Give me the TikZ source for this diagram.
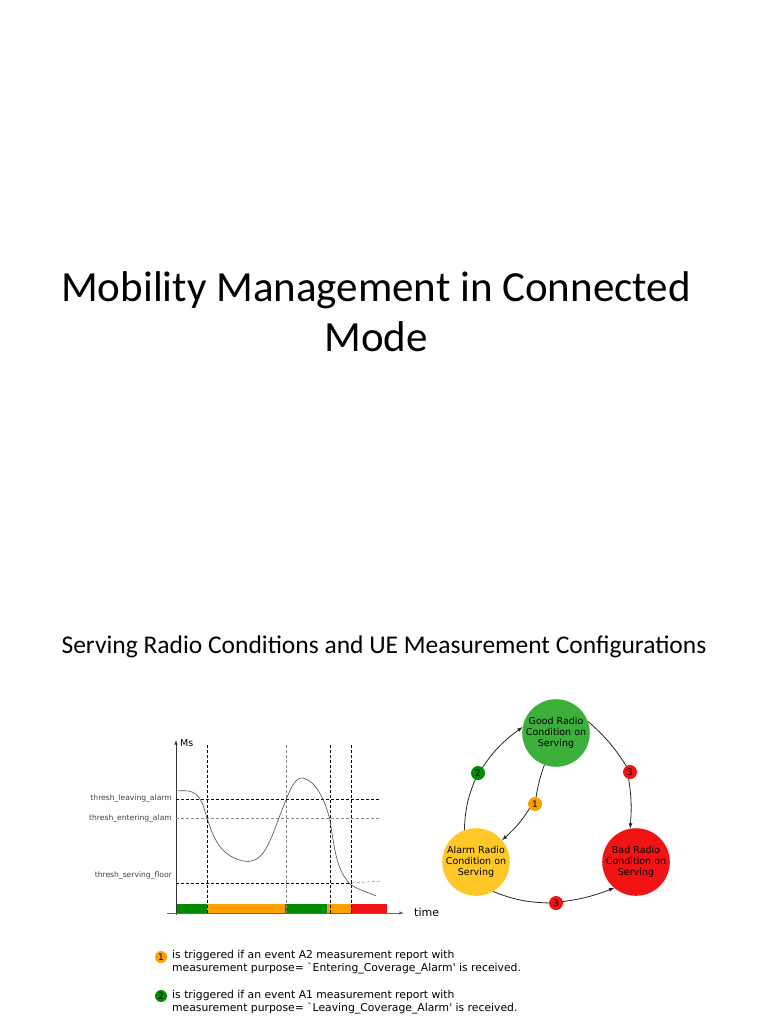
\documentclass[tikz,border=0pt]{standalone}
\usepackage{fontspec}
\usetikzlibrary{backgrounds}
\setmainfont{Carlito}
\newfontfamily\dv{DejaVu Sans}
\definecolor{gr}{RGB}{0,140,0}
\definecolor{cgreen}{RGB}{60,175,60}
\definecolor{og}{RGB}{255,160,0}
\definecolor{cyel}{RGB}{255,200,40}
\definecolor{rd}{RGB}{240,20,20}
\begin{document}
\begin{tikzpicture}[x=1pt,y=-1pt,
  lbl/.style={font=\dv\fontsize{7.6}{8}\selectfont,text=black!75,anchor=east,inner sep=0},
  dk/.style={densely dashed,black,line width=0.6pt},
  lt/.style={densely dashed,black!45,line width=0.5pt},
  st/.style={circle,minimum size=62pt,inner sep=0,align=center,font=\dv\fontsize{9.5}{11}\selectfont},
  badge/.style={circle,minimum size=14pt,inner sep=0,font=\dv\fontsize{9}{9}\selectfont},
  tr/.style={->,>=latex,line width=0.8pt,black!85},
  leg/.style={anchor=north west,align=left,inner sep=0,font=\dv\fontsize{10.8}{13}\selectfont}]
\useasboundingbox (0,0) rectangle (768,1024);
\node[font=\fontsize{43}{50}\selectfont,align=center] (title) at (376,312) {Mobility Management in Connected\\Mode};
\node[font=\fontsize{25.5}{28}\selectfont] (sub) at (384,647) {Serving Radio Conditions and UE Measurement Configurations};
% chart
\fill[gr] (176,904) rectangle (207,914);
\fill[og] (207,904) rectangle (285,914);
\fill[gr] (285,904) rectangle (327,914);
\fill[og] (327,904) rectangle (351,914);
\fill[rd] (351,904) rectangle (387,914);
\coordinate (o) at (176,915);
\coordinate (yt) at (176,740);
\coordinate (xl) at (167,913);
\coordinate (xr) at (404,913);
\draw[-latex,black!80,line width=0.6pt] (o) -- (yt);
\draw[-latex,black!60,line width=0.6pt] (xl) -- (xr);
\node[font=\dv\fontsize{9.5}{10}\selectfont,anchor=west,inner sep=0] (ms) at (180,743) {Ms};
\node[font=\dv\fontsize{11}{11}\selectfont,anchor=west,inner sep=0] (time) at (414,912) {time};
\draw[dk] (207,745) -- (207,914);
\draw[lt] (286,745) -- (286,914);
\draw[dk] (330,745) -- (330,914);
\draw[dk] (351,745) -- (351,914);
\draw[dk] (176,799) -- (380,799);
\draw[lt] (176,818) -- (380,818);
\draw[dk] (176,883) -- (352,883);
\draw[lt] (352,883) -- (382,881);
\node[lbl] (l1) at (172,798) {thresh\_leaving\_alarm};
\node[lbl] (l2) at (172,818) {thresh\_entering\_alam};
\node[lbl] (l3) at (172,875) {thresh\_serving\_floor};
\draw[black!70,line width=0.6pt] (176,791) .. controls (190,790) and (198,790) .. (204,808)
  .. controls (212,835) and (218,855) .. (243,861)
  .. controls (262,864) and (268,848) .. (280,815)
  .. controls (288,795) and (294,776) .. (303,778)
  .. controls (316,781) and (325,800) .. (330,820)
  .. controls (334,845) and (336,870) .. (350,884)
  .. controls (358,890) and (368,892) .. (376,896);
% states
\node[st,fill=cgreen] (good) at (556,733) {Good Radio\\Condition on\\Serving};
\node[st,fill=cyel] (alarm) at (476,862) {Alarm Radio\\Condition on\\Serving};
\node[st,fill=rd] (bad) at (636,862) {Bad Radio\\Condition on\\Serving};
\node[badge,fill=gr] (b2) at (478,773) {2};
\node[badge,fill=og] (b1) at (535,804) {1};
\node[badge,fill=rd] (b3) at (630,772) {3};
\node[badge,fill=rd] (b3b) at (556,903) {3};
\begin{scope}[on background layer]
\draw[tr] (alarm.110) to[bend left=10] (b2) to[bend left=12] (good.170);
\draw[tr] (good.250) to[bend right=5] (b1) to[bend left=10] (alarm.40);
\draw[tr] (good.20) to[bend left=8] (b3) to[bend left=8] (bad.100);
\draw[tr] (alarm.-60) to[bend right=10] (b3b) to[bend right=8] (bad.-130);
\end{scope}
% legend
\node[badge,fill=og,minimum size=12pt] (lb1) at (161,957) {1};
\node[leg] (t1) at (172,950) {is triggered if an event A2 measurement report with\\measurement purpose= `Entering\_Coverage\_Alarm' is received.};
\node[badge,fill=gr,minimum size=12pt] (lb2) at (161,996) {2};
\node[leg] (t2) at (172,990) {is triggered if an event A1 measurement report with\\measurement purpose= `Leaving\_Coverage\_Alarm' is received.};
\end{tikzpicture}
\end{document}
